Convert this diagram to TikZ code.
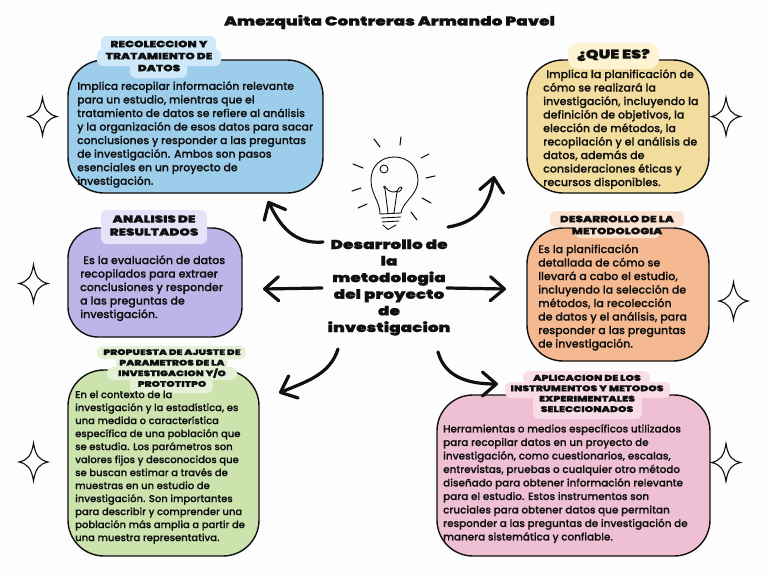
\documentclass[tikz,border=0pt]{standalone}
\usepackage{fontspec}
\usetikzlibrary{arrows.meta}
\newfontfamily\heavyfont{Poppins Black}[FakeStretch=1.3,FakeBold=0.3]
\newfontfamily\bodyfont{Poppins Medium}[FakeBold=0.25]
\definecolor{pagebg}{HTML}{FDFDFD}
\definecolor{ink}{HTML}{101010}
\definecolor{bluefill}{HTML}{9CCDEB}\definecolor{bluelab}{HTML}{CFE9FB}
\definecolor{yellowfill}{HTML}{F2DD9E}\definecolor{yellowlab}{HTML}{FDF3D3}
\definecolor{purplefill}{HTML}{BBB5E8}\definecolor{purplelab}{HTML}{E6E3F9}
\definecolor{orangefill}{HTML}{F4B990}\definecolor{orangelab}{HTML}{FBE3D2}
\definecolor{greenfill}{HTML}{CDE3AE}\definecolor{greenlab}{HTML}{E5F1D7}
\definecolor{pinkfill}{HTML}{EFBFD3}\definecolor{pinklab}{HTML}{F8DDE9}
\tikzset{
  panel/.style={draw=ink,line width=1.4pt,inner sep=0pt,outer sep=0pt,rounded corners=36pt},
  bodytext/.style={anchor=north west,align=left,inner sep=0pt,text=ink,execute at begin node=\strut},
  labeltext/.style={align=center,inner sep=0pt,text=ink},
  labelbg/.style={rounded corners=6pt},
  flow/.style={draw=ink,line width=3.2pt,line cap=round,-{Straight Barb[length=14pt,width=24pt,round]}},
  bulbline/.style={draw=ink,line width=0.9pt,line cap=round,line join=round},
  pics/sparkle/.style={code={
    \draw[ink,line width=1.1pt,line join=miter] (0,-19) .. controls (2,-6) and (6,-2) .. (14.5,0)
      .. controls (6,2) and (2,6) .. (0,19) .. controls (-2,6) and (-6,2) .. (-14.5,0)
      .. controls (-6,-2) and (-2,-6) .. (0,-19) -- cycle;}}
}
\begin{document}
\begin{tikzpicture}[x=1pt,y=-1pt]
\useasboundingbox[fill=pagebg] (0,0) rectangle (768,576);
% panels
\node[panel,fill=bluefill,minimum width=255pt,minimum height=133pt] (blue) at (195.5,126.5) {};
\node[panel,fill=yellowfill,minimum width=182pt,minimum height=133pt] (yellow) at (618,126.5) {};
\node[panel,fill=purplefill,minimum width=174pt,minimum height=109pt,rounded corners=30pt] (purple) at (155,282.5) {};
\node[panel,fill=orangefill,minimum width=182pt,minimum height=133pt] (orange) at (618,294.5) {};
\node[panel,fill=greenfill,minimum width=191pt,minimum height=186pt] (green) at (163.5,463) {};
\node[panel,fill=pinkfill,minimum width=273pt,minimum height=161pt] (pink) at (573.5,475.5) {};
% label backgrounds
\fill[labelbg,bluelab] (101,36) rectangle (216,52) (97,49) rectangle (221,66) (130,62) rectangle (187,78);
\fill[labelbg,yellowlab,rounded corners=10pt] (568,43) rectangle (659,69);
\fill[labelbg,purplelab] (101,210) rectangle (207,244);
\fill[labelbg,orangelab] (550,211) rectangle (684,227) (575,224) rectangle (660,238);
\fill[labelbg,greenlab] (97,346) rectangle (246,359) (116,357) rectangle (228,369) (107,367) rectangle (237,380) (130,378) rectangle (213,393);
\fill[labelbg,pinklab] (523,371) rectangle (650,385) (505,382) rectangle (670,398) (533,395) rectangle (642,419);
% title and hub
\node[labeltext,font=\heavyfont\fontsize{13}{16}\selectfont] (title) at (389.5,22) {Amezquita Contreras Armando Pavel};
\node[labeltext,font=\heavyfont\fontsize{13}{16.6}\selectfont] (hub) at (389,287.5) {Desarrollo de\\la\\metodologia\\del proyecto\\de\\investigacion};
% labels
\node[labeltext,font=\heavyfont\fontsize{9.2}{12}\selectfont] (bluelabel) at (159,56) {RECOLECCION Y\\TRATAMIENTO DE\\DATOS};
\node[labeltext,font=\heavyfont\fontsize{12.5}{14}\selectfont] (yellowlabel) at (613.5,55) {¿QUE ES?};
\node[labeltext,font=\heavyfont\fontsize{10.3}{13}\selectfont] (purplelabel) at (154,225.5) {ANALISIS DE\\RESULTADOS};
\node[labeltext,font=\heavyfont\fontsize{9.2}{12}\selectfont] (orangelabel) at (617,225) {DESARROLLO DE LA\\METODOLOGIA};
\node[labeltext,font=\heavyfont\fontsize{8.1}{10.6}\selectfont] (greenlabel) at (172,368) {PROPUESTA DE AJUSTE DE\\PARAMETROS DE LA\\INVESTIGACION Y/O\\PROTOTITPO};
\node[labeltext,font=\heavyfont\fontsize{8.3}{10.4}\selectfont] (pinklabel) at (587,393.5) {APLICACION DE LOS\\INSTRUMENTOS Y METODOS\\EXPERIMENTALES\\SELECCIONADOS};
% body text
\node[bodytext,font=\bodyfont\fontsize{10.85}{13.55}\selectfont] (bluetext) at (77,81) {Implica recopilar información relevante\\para un estudio, mientras que el\\tratamiento de datos se refiere al análisis\\y la organización de esos datos para sacar\\conclusiones y responder a las preguntas\\de investigación. Ambos son pasos\\esenciales en un proyecto de\\investigación.};
\node[bodytext,font=\bodyfont\fontsize{11.05}{13.5}\selectfont] (yellowtext) at (543,69) {\hspace{3pt}Implica la planificación de\\cómo se realizará la\\investigación, incluyendo la\\definición de objetivos, la\\elección de métodos, la\\recopilación y el análisis de\\datos, además de\\consideraciones éticas y\\recursos disponibles.};
\node[bodytext,font=\bodyfont\fontsize{11.05}{13.5}\selectfont] (purpletext) at (80,255) {\hspace{3pt}Es la evaluación de datos\\recopilados para extraer\\conclusiones y responder\\a las preguntas de\\investigación.};
\node[bodytext,font=\bodyfont\fontsize{11.05}{13.5}\selectfont] (orangetext) at (538,244) {Es la planificación\\detallada de cómo se\\llevará a cabo el estudio,\\incluyendo la selección de\\métodos, la recolección\\de datos y el análisis, para\\responder a las preguntas\\de investigación.};
\node[bodytext,font=\bodyfont\fontsize{10}{13}\selectfont] (greentext) at (75,390.5) {En el contexto de la\\investigación y la estadística, es\\una medida o característica\\específica de una población que\\se estudia. Los parámetros son\\valores fijos y desconocidos que\\se buscan estimar a través de\\muestras en un estudio de\\investigación. Son importantes\\para describir y comprender una\\población más amplia a partir de\\una muestra representativa.};
\node[bodytext,font=\bodyfont\fontsize{10.4}{13.5}\selectfont] (pinktext) at (443,424) {Herramientas o medios específicos utilizados\\para recopilar datos en un proyecto de\\investigación, como cuestionarios, escalas,\\entrevistas, pruebas o cualquier otro método\\diseñado para obtener información relevante\\para el estudio. Estos instrumentos son\\cruciales para obtener datos que permitan\\responder a las preguntas de investigación de\\manera sistemática y confiable.};
% sparkles
\pic at (42.5,116.5) {sparkle};
\pic at (726,116.5) {sparkle};
\pic at (33.5,283.5) {sparkle};
\pic at (733.5,301) {sparkle};
\pic at (33.5,462) {sparkle};
\pic at (726,462.5) {sparkle};
% bulb
\draw[bulbline] (380,214) .. controls (380,201) and (371,195) .. (371,180)
  .. controls (371,166) and (381,157) .. (394.5,157)
  .. controls (408,157) and (418,167) .. (418,180)
  .. controls (418,195) and (403,201) .. (401,213);
\draw[bulbline] (384,169) circle (4);
\draw[bulbline] (388,213) -- (385,189) .. controls (382,186) and (385,185) .. (386,188)
  .. controls (389,192) and (394,193) .. (397,191) .. controls (399,186) and (404,186) .. (401,190)
  .. controls (400,192) and (398,192) .. (397,192) -- (394,213);
\draw[bulbline] (380,214) -- (401,213) (381,218) -- (401,217) (382,222) -- (399,221) (383,225) -- (388,229.5) -- (396,225);
\draw[bulbline,line width=1.1pt] (374,139) -- (380,147) (401,137) -- (400,145) (429,154) -- (421,158)
  (435,176) -- (426,178) (431,203) -- (422,198) (417,220) -- (411,212)
  (353,164) -- (363,168) (352,191) -- (361,188) (358,208) -- (367,204);
% connectors
\draw[flow] ([shift={(-66,-45.5)}]hub.center) .. controls (290,245) and (277,219) .. ([shift={(72.5,8)}]blue.south);
\draw[flow] ([shift={(59,-60.5)}]hub.center) .. controls (480,222) and (490,202) .. ([shift={(-124,-17)}]yellow.south);
\draw[flow] ([shift={(-67,0.5)}]hub.center) -- ([shift={(21,6.5)}]purple.east);
\draw[flow] ([shift={(58,0.5)}]hub.center) -- ([shift={(-21,-5.5)}]orange.west);
\draw[flow] ([shift={(-51,61.5)}]hub.center) .. controls (330,375) and (305,382) .. ([shift={(20,-70)}]green.east);
\draw[flow] ([shift={(49,64.5)}]hub.center) .. controls (445,378) and (470,384) .. ([shift={(61,-11)}]pink.north west);
\end{tikzpicture}
\end{document}
